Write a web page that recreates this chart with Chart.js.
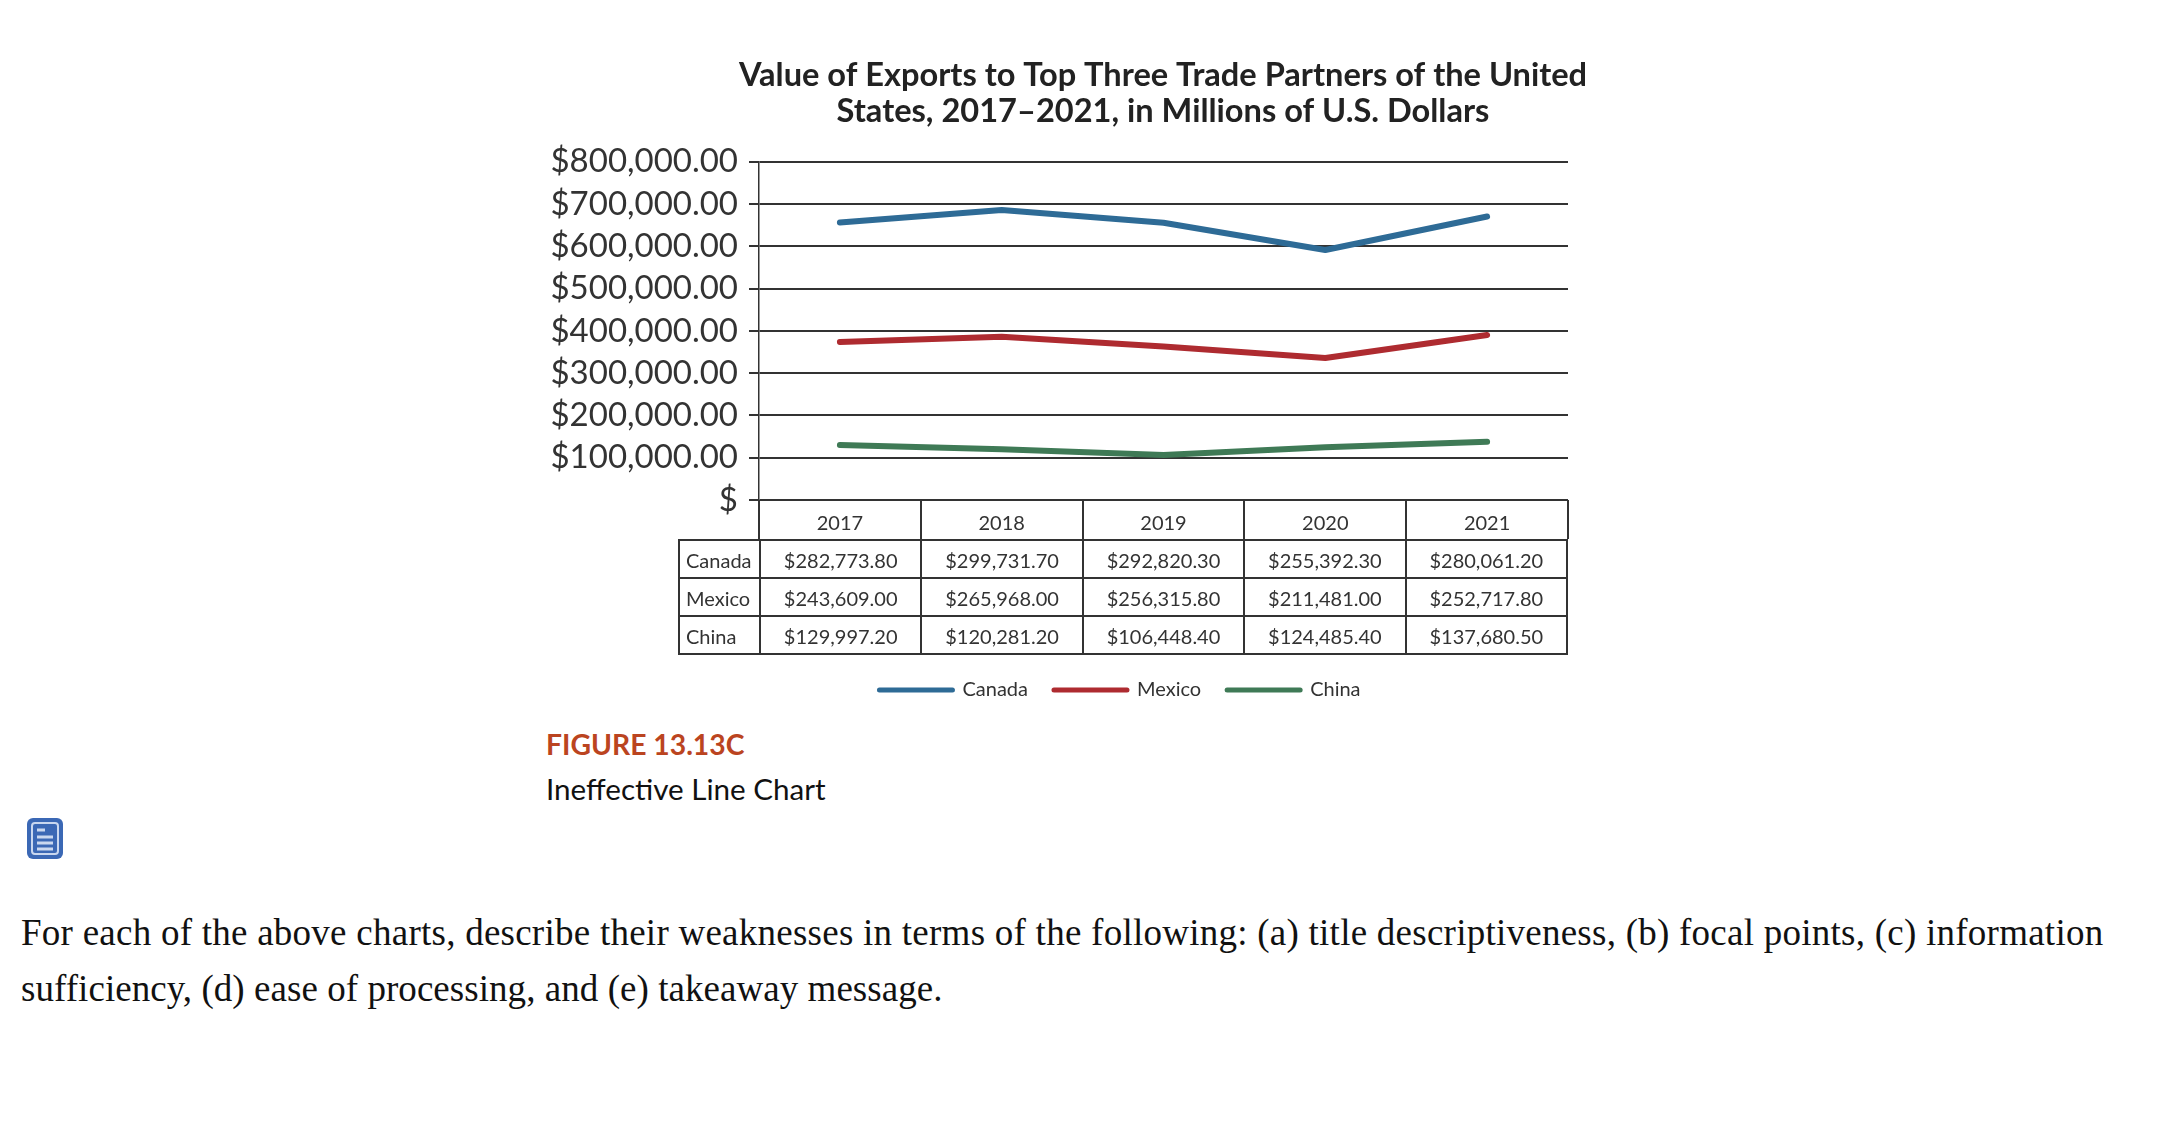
<!DOCTYPE html>
<html>
<head>
<meta charset="utf-8">
<title>Figure 13.13C</title>
<script src="https://cdn.jsdelivr.net/npm/chart.js@4"></script>
<style>
  body { margin: 0; background: #fff; width: 2157px; height: 1121px; overflow: hidden; position: relative; font-family: Lato, sans-serif; }
  #chartBox { position: absolute; left: 500px; top: 0; width: 1326px; height: 710px; }
  #dataTable { position: absolute; left: 678px; top: 539px; width: 890px; height: 116px; border-collapse: collapse; table-layout: fixed; font-size: 20px; color: #333; }
  #dataTable td { border: 2px solid #333; padding: 2px 0 0; text-align: center; }
  #dataTable td:first-child { width: 81px; text-align: left; padding-left: 6px; box-sizing: border-box; }
  .fig { position: absolute; left: 546px; top: 727px; font-size: 28.3px; font-weight: 700; color: #bb4420; }
  .cap { position: absolute; left: 546px; top: 771px; font-size: 29.6px; color: #111; }
  #icon { position: absolute; left: 27px; top: 818px; }
  .para { position: absolute; left: 21px; top: 905px; width: 2130px; font-family: "Liberation Serif", serif; font-size: 37px; letter-spacing: 0.25px; line-height: 56px; color: #111; }
  .para span { letter-spacing: 0.05px; }
</style>
</head>
<body>
<div id="chartBox"><canvas id="exportsChart" width="1326" height="710"></canvas></div>
<table id="dataTable"></table>
<div class="fig">FIGURE 13.13C</div>
<div class="cap">Ineffective Line Chart</div>
<svg id="icon" width="36" height="41" viewBox="0 0 36 41">
  <rect width="36" height="41" rx="6" fill="#3b68b5"/>
  <rect x="5" y="5" width="26" height="31" rx="3" fill="none" stroke="#c9d7ef" stroke-width="2"/>
  <path d="M10 12h8M10 19h16M10 25h16M10 31h16" stroke="#c9d7ef" stroke-width="3"/>
</svg>
<div class="para">For each of the above charts, describe their weaknesses in terms of the following: (a) title descriptiveness, (b) focal points, (c) information<br><span>sufficiency, (d) ease of processing, and (e) takeaway message.</span></div>
<script>
const years = ['2017', '2018', '2019', '2020', '2021'];
const canada = [282773.80, 299731.70, 292820.30, 255392.30, 280061.20];
const mexico = [243609.00, 265968.00, 256315.80, 211481.00, 252717.80];
const china = [129997.20, 120281.20, 106448.40, 124485.40, 137680.50];
const yTickLabels = ['$', '$100,000.00', '$200,000.00', '$300,000.00', '$400,000.00', '$500,000.00', '$600,000.00', '$700,000.00', '$800,000.00'];

const ink = '#333';
const labelFont = { family: 'Lato', size: 20 };

// the data table under the axis
const rows = [['Canada', canada], ['Mexico', mexico], ['China', china]];
const money = v => v.toLocaleString('en-US', { style: 'currency', currency: 'USD' });
document.getElementById('dataTable').innerHTML = rows.map(r =>
  '<tr><td>' + r[0] + '</td>' + r[1].map(v => '<td>' + money(v) + '</td>').join('') + '</tr>'
).join('');

// title sits over the plot, legend a bit left of it; padding would centre both on the wrong box
const shiftBoxes = {
  id: 'shiftBoxes',
  afterLayout(chart) {
    chart.titleBlock.left += 129;
    chart.titleBlock.right += 129;
    chart.legend.left += 86;
    chart.legend.right += 86;
  }
};

function lineSet(label, data, color) {
  return {
    label: label,
    data: data,
    borderColor: color,
    backgroundColor: color,
    borderWidth: 6,
    borderCapStyle: 'round',
    borderJoinStyle: 'round',
    pointRadius: 0,
    tension: 0,
    fill: false
  };
}

new Chart(document.getElementById('exportsChart').getContext('2d'), {
  type: 'line',
  data: {
    labels: years,
    // stacked bottom up, so China goes first
    datasets: [
      lineSet('China', china, '#3f7a56'),
      lineSet('Mexico', mexico, '#ae2b30'),
      lineSet('Canada', canada, '#2e6b96')
    ]
  },
  plugins: [shiftBoxes],
  options: {
    responsive: false,
    animation: false,
    layout: { padding: { right: 258 } },
    plugins: {
      tooltip: { enabled: false },
      title: {
        display: true,
        text: ['Value of Exports to Top Three Trade Partners of the United', 'States, 2017\u20132021, in Millions of U.S. Dollars'],
        color: '#222',
        font: { family: 'Lato', size: 32.6, weight: 'bold', lineHeight: 1.1 },
        padding: { top: 58, bottom: 32 }
      },
      legend: {
        position: 'bottom',
        reverse: true,
        labels: {
          usePointStyle: true,
          pointStyle: 'line',
          pointStyleWidth: 73,
          padding: 26,
          color: ink,
          font: labelFont,
          generateLabels: chart => Chart.defaults.plugins.legend.labels.generateLabels(chart)
            .map(item => ({ ...item, lineCap: 'round', lineWidth: 5 }))
        }
      }
    },
    scales: {
      x: {
        offset: true,
        afterFit(scale) { scale.height = 154; },
        border: { display: false },
        grid: { offset: true, drawOnChartArea: false, color: ink, tickColor: ink, lineWidth: 2, tickLength: 39 },
        ticks: { color: ink, font: labelFont, padding: -27, maxRotation: 0, autoSkip: false }
      },
      y: {
        stacked: true,
        min: 0,
        max: 800000,
        afterFit(scale) { scale.width = 259; },
        border: { display: true, color: ink, width: 1.5 },
        grid: { color: ink, lineWidth: 2, tickLength: 10 },
        ticks: {
          stepSize: 100000,
          autoSkip: false,
          padding: 11,
          color: ink,
          font: { family: 'Lato', size: 33 },
          callback: (v, i) => yTickLabels[i]
        }
      }
    }
  }
});
</script>
</body>
</html>
